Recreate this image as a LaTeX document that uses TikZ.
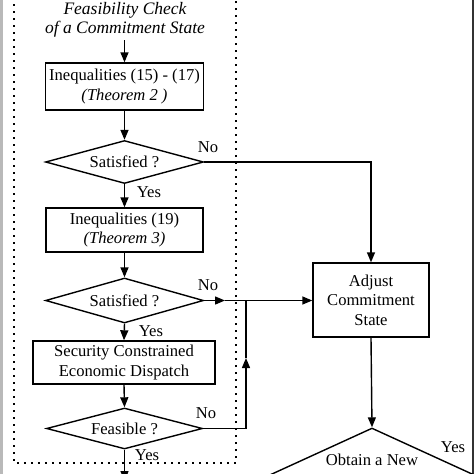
\documentclass[tikz,border=0pt]{standalone}
\usepackage{fontspec}
\setmainfont{Liberation Serif}
\usetikzlibrary{shapes.geometric,arrows.meta}
\begin{document}
\begin{tikzpicture}[x=1pt,y=-1pt,
  txt/.style={font=\fontsize{16.6}{19.5}\selectfont, align=center, inner sep=0pt},
  box/.style={txt, draw, line width=1.4pt},
  dia/.style={txt, draw, line width=1.4pt, shape=diamond, shape aspect=3.6},
  line/.style={line width=1.4pt},
  arr/.style={line width=1.4pt, -{Triangle[length=10pt,width=8pt]}},
  lbl/.style={font=\fontsize{16.6}{18}\selectfont, inner sep=0pt},
  dotline/.style={line width=1.7pt, dash pattern=on 1.7pt off 5.3pt}]
\useasboundingbox (0,0) rectangle (474,474);
\clip (0,0) rectangle (474,474);
\fill[white] (0,0) rectangle (474,474);
% edge bars of the scan
\fill[gray!55] (0,0) rectangle (2.5,474);
\fill[gray!40!black] (471.5,0) rectangle (474,474);
% dotted frame
\draw[dotline] (14,-10) -- (14,463) -- (236,463) -- (236,-10);
% title
\node[txt, font=\fontsize{17.5}{19}\selectfont\itshape] (title) at (125,20) {Feasibility Check\\of a Commitment State};
\coordinate (tstart) at (124.5,40);
% left column
\node[box, minimum width=158, minimum height=47] (b1) at (124.5,86.5) {Inequalities (15) - (17)\\\textit{(Theorem 2 )}};
\node[dia, minimum width=158, minimum height=43] (d1) at (124.5,162) {Satisfied ?};
\node[box, minimum width=157, minimum height=44] (b2) at (124.5,230) {Inequalities (19)\\\textit{(Theorem 3)}};
\node[dia, minimum width=158, minimum height=45] (d2) at (124.5,300.5) {Satisfied ?};
\node[box, minimum width=182, minimum height=43] (b3) at (124,362.5) {Security Constrained\\Economic Dispatch};
\node[dia, minimum width=156, minimum height=41] (d3) at (124.5,428.5) {Feasible ?};
\coordinate (out) at (124.5,481);
% right column
\node[box, minimum width=116, minimum height=74] (adj) at (371,300) {Adjust\\Commitment\\State};
\node[draw, line width=1.4pt, shape=diamond, inner sep=0pt, minimum width=240, minimum height=110] (d4) at (372,483) {};
\node[txt] (d4t) at (372,460) {Obtain a New};
% connectors
\draw[arr] (tstart) -- (b1.north);
\draw[arr] (b1.south) -- (d1.north);
\draw[arr] (d1.south) -- (b2.north);
\draw[arr] (b2.south) -- (d2.north);
\draw[arr] (d2.south) -- (b3.north);
\draw[arr] (b3.south) -- (d3.north);
\draw[arr] (d3.south) -- (out);
\draw[arr] (d1.east) -| (adj.north);
\coordinate (a2) at (225,300.5);
\coordinate (j) at (246,300.5);
\coordinate (ja) at (246,358);
\draw[arr] (d2.east) -- (a2);
\draw[arr] (a2) -- (adj.west |- a2);
\draw[arr] (d3.east) -| (ja);
\draw[line] (ja) -- (j);
\draw[arr] (adj.south) -- (d4.north);
% labels
\node[lbl] (n1) at (208,147) {No};
\node[lbl] (y1) at (149,192) {Yes};
\node[lbl] (n2) at (208,285) {No};
\node[lbl] (y2) at (151,331) {Yes};
\node[lbl] (n3) at (206,413) {No};
\node[lbl] (y3) at (147,455) {Yes};
\node[lbl] (y4) at (453,447) {Yes};
\end{tikzpicture}
\end{document}
